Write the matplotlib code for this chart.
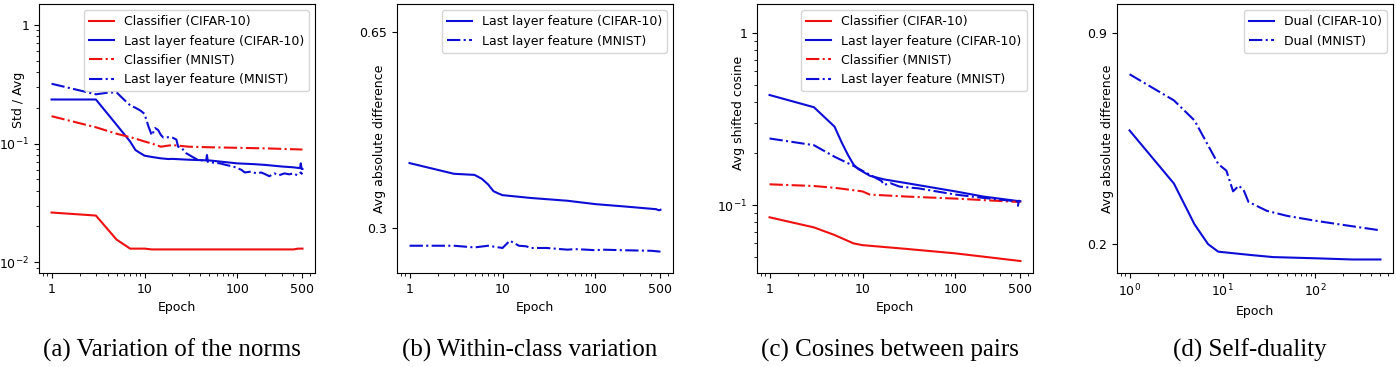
import matplotlib
matplotlib.use("Agg")
import matplotlib.pyplot as plt
from matplotlib.ticker import FixedLocator, FixedFormatter, NullFormatter

plt.rcParams['font.family'] = ['DejaVu Sans']
plt.rcParams['font.size'] = 9

RED = '#f01010'
BLUE = '#0d0dd8'

# ---------------- Panel (a): Variation of the norms ----------------
a_cls_cifar_ep = [1, 3, 5, 7, 10, 12, 20, 50, 100, 200, 400, 450, 500]
a_cls_cifar = [0.0262, 0.0247, 0.0155, 0.0130, 0.0130, 0.0128, 0.0128, 0.0128, 0.0128, 0.0128, 0.0128, 0.0130, 0.0130]

a_feat_cifar_ep = [1, 3, 5, 7, 8, 9, 10, 12, 15, 18, 20, 30, 50, 70, 100, 150, 200, 300, 400, 470, 480, 490, 500]
a_feat_cifar = [0.235, 0.235, 0.144, 0.104, 0.088, 0.083, 0.079, 0.077, 0.075, 0.074, 0.0742, 0.073, 0.072, 0.070, 0.068, 0.067, 0.066, 0.064, 0.063, 0.062, 0.068, 0.061, 0.061]

a_cls_mnist_ep = [1, 3, 5, 8, 10, 12, 15, 18, 20, 30, 50, 100, 200, 500]
a_cls_mnist = [0.170, 0.137, 0.121, 0.110, 0.104, 0.100, 0.094, 0.096, 0.097, 0.094, 0.093, 0.092, 0.091, 0.089]

a_feat_mnist_ep = [1, 3, 4, 5, 6, 7, 8, 9, 10, 11, 12, 13, 14, 15, 16, 18, 20, 22, 23, 25, 28, 32, 36, 42, 46, 47, 48, 55, 65, 75, 90, 100, 110, 120, 140, 160, 180, 200, 220, 250, 280, 320, 360, 400, 440, 480, 500]
a_feat_mnist = [0.319, 0.260, 0.268, 0.270, 0.235, 0.210, 0.200, 0.190, 0.178, 0.140, 0.117, 0.135, 0.130, 0.118, 0.112, 0.113, 0.112, 0.108, 0.094, 0.092, 0.083, 0.078, 0.074, 0.072, 0.072, 0.080, 0.070, 0.069, 0.068, 0.066, 0.064, 0.062, 0.060, 0.057, 0.058, 0.056, 0.057, 0.055, 0.053, 0.056, 0.054, 0.056, 0.055, 0.056, 0.054, 0.057, 0.055]

# ---------------- Panel (b): Within-class variation ----------------
b_feat_cifar_ep = [1, 3, 5, 6, 7, 8, 9, 10, 20, 50, 100, 200, 450, 480, 500]
b_feat_cifar = [0.416, 0.397, 0.395, 0.388, 0.378, 0.366, 0.362, 0.359, 0.354, 0.349, 0.343, 0.339, 0.334, 0.332, 0.333]

b_feat_mnist_ep = [1, 3, 5, 7, 10, 12, 15, 18, 20, 30, 50, 60, 80, 100, 120, 200, 400, 500]
b_feat_mnist = [0.269, 0.269, 0.266, 0.269, 0.265, 0.278, 0.269, 0.268, 0.265, 0.265, 0.262, 0.263, 0.262, 0.261, 0.262, 0.261, 0.260, 0.2585]

# ---------------- Panel (c): Cosines between pairs ----------------
c_cls_cifar_ep = [1, 3, 5, 8, 10, 30, 100, 500]
c_cls_cifar = [0.0848, 0.0741, 0.0669, 0.0598, 0.0584, 0.0555, 0.0523, 0.0472]

c_feat_cifar_ep = [1, 3, 5, 6, 7, 8, 9, 12, 17, 30, 100, 200, 500]
c_feat_cifar = [0.437, 0.371, 0.286, 0.230, 0.195, 0.172, 0.162, 0.148, 0.141, 0.134, 0.120, 0.112, 0.105]

c_cls_mnist_ep = [1, 3, 5, 10, 12, 30, 100, 500]
c_cls_mnist = [0.132, 0.129, 0.126, 0.120, 0.115, 0.112, 0.109, 0.104]

c_feat_mnist_ep = [1, 3, 5, 8, 12, 16, 17, 20, 25, 40, 100, 200, 460, 470, 480, 500]
c_feat_mnist = [0.244, 0.223, 0.191, 0.169, 0.150, 0.138, 0.131, 0.134, 0.128, 0.125, 0.115, 0.110, 0.105, 0.099, 0.106, 0.105]

# ---------------- Panel (d): Self-duality ----------------
d_dual_cifar_ep = [1, 3, 5, 7, 9, 20, 35, 100, 250, 500]
d_dual_cifar = [0.577, 0.400, 0.264, 0.198, 0.173, 0.162, 0.155, 0.151, 0.147, 0.147]

d_dual_mnist_ep = [1, 3, 5, 9, 11, 13, 15, 17, 19, 30, 50, 100, 200, 500]
d_dual_mnist = [0.764, 0.677, 0.610, 0.465, 0.443, 0.374, 0.393, 0.376, 0.339, 0.309, 0.292, 0.276, 0.262, 0.244]

epoch_ticks = [1, 10, 100, 500]
epoch_labels = ['1', '10', '100', '500']

a_yticks = [0.01, 0.1, 1]
a_ylabels = [r'$\mathdefault{10^{-2}}$', r'$\mathdefault{10^{-1}}$', '1']
c_yticks = [0.1, 1]
c_ylabels = [r'$\mathdefault{10^{-1}}$', '1']

captions = ['(a) Variation of the norms', '(b) Within-class variation',
            '(c) Cosines between pairs', '(d) Self-duality']

fig = plt.figure(figsize=(13.96, 3.67), dpi=100)
W, H = 1396.0, 367.0
lefts = [39, 397, 757, 1117]
axw, axtop, axbot = 276, 4, 273
axes = []
for l in lefts:
    ax = fig.add_axes([l / W, 1 - axbot / H, axw / W, (axbot - axtop) / H])
    axes.append(ax)

lw = 1.5

# (a)
ax = axes[0]
ax.plot(a_cls_cifar_ep, a_cls_cifar, '-', color=RED, lw=lw, label='Classifier (CIFAR-10)')
ax.plot(a_feat_cifar_ep, a_feat_cifar, '-', color=BLUE, lw=lw, label='Last layer feature (CIFAR-10)')
ax.plot(a_cls_mnist_ep, a_cls_mnist, '-.', color=RED, lw=lw, label='Classifier (MNIST)')
ax.plot(a_feat_mnist_ep, a_feat_mnist, '-.', color=BLUE, lw=lw, label='Last layer feature (MNIST)')
ax.set_xscale('log'); ax.set_yscale('log')
ax.set_ylim(0.0081, 1.5)
ax.yaxis.set_major_locator(FixedLocator(a_yticks))
ax.yaxis.set_major_formatter(FixedFormatter(a_ylabels))
ax.yaxis.set_minor_formatter(NullFormatter())
ax.set_ylabel('Std / Avg')

# (b)
ax = axes[1]
ax.plot(b_feat_cifar_ep, b_feat_cifar, '-', color=BLUE, lw=lw, label='Last layer feature (CIFAR-10)')
ax.plot(b_feat_mnist_ep, b_feat_mnist, '-.', color=BLUE, lw=lw, label='Last layer feature (MNIST)')
ax.set_xscale('log')
ax.set_ylim(0.2205, 0.699)
ax.set_yticks([0.3, 0.65])
ax.set_yticklabels(['0.3', '0.65'])
ax.set_ylabel('Avg absolute difference')

# (c)
ax = axes[2]
ax.plot(c_cls_cifar_ep, c_cls_cifar, '-', color=RED, lw=lw, label='Classifier (CIFAR-10)')
ax.plot(c_feat_cifar_ep, c_feat_cifar, '-', color=BLUE, lw=lw, label='Last layer feature (CIFAR-10)')
ax.plot(c_cls_mnist_ep, c_cls_mnist, '-.', color=RED, lw=lw, label='Classifier (MNIST)')
ax.plot(c_feat_mnist_ep, c_feat_mnist, '-.', color=BLUE, lw=lw, label='Last layer feature (MNIST)')
ax.set_xscale('log'); ax.set_yscale('log')
ax.set_ylim(0.0402, 1.48)
ax.yaxis.set_major_locator(FixedLocator(c_yticks))
ax.yaxis.set_major_formatter(FixedFormatter(c_ylabels))
ax.yaxis.set_minor_formatter(NullFormatter())
ax.set_ylabel('Avg shifted cosine')

# (d)
ax = axes[3]
ax.plot(d_dual_cifar_ep, d_dual_cifar, '-', color=BLUE, lw=lw, label='Dual (CIFAR-10)')
ax.plot(d_dual_mnist_ep, d_dual_mnist, '-.', color=BLUE, lw=lw, label='Dual (MNIST)')
ax.set_xscale('log')
ax.set_ylim(0.102, 0.998)
ax.set_yticks([0.2, 0.9])
ax.set_yticklabels(['0.2', '0.9'])
ax.set_ylabel('Avg absolute difference')

ylabel_pos = [(-0.0736, 0.643), (-0.0616, 0.5), (-0.0688, 0.595), (-0.036, 0.5)]

for i, ax in enumerate(axes):
    ax.set_xlabel('Epoch')
    if i < 3:
        ax.xaxis.set_major_locator(FixedLocator(epoch_ticks))
        ax.xaxis.set_major_formatter(FixedFormatter(epoch_labels))
        ax.xaxis.set_minor_formatter(NullFormatter())
    ax.yaxis.set_label_coords(*ylabel_pos[i])
    ax.yaxis.label.set_verticalalignment('center')
    ax.legend(loc='upper right', fontsize=9)
    bb = ax.get_position()
    fig.text(bb.x0 + bb.width / 2 - 5 / W, 1 - 350 / H, captions[i],
             ha='center', va='center', fontsize=18, family='Liberation Serif')

fig.savefig('out.png', dpi=100)
